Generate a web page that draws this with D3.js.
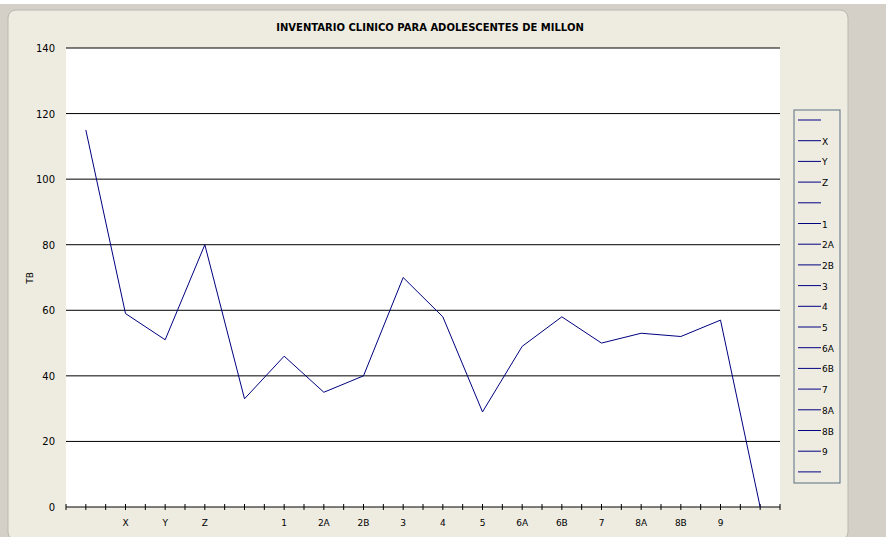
<!DOCTYPE html>
<meta charset="utf-8">
<script src="https://d3js.org/d3.v7.min.js"></script>
<style>body{margin:0;background:#d4d0c8;} text{font-family:Tahoma,"DejaVu Sans",sans-serif;}</style>
<div id="chart"></div>
<script>
var categories = ["", "X", "Y", "Z", " ", "1", "2A", "2B", "3", "4", "5", "6A", "6B", "7", "8A", "8B", "9", "  "];
var values = [115, 59, 51, 80, 33, 46, 35, 40, 70, 58, 29, 49, 58, 50, 53, 52, 57, 0];
var yTicks = [0, 20, 40, 60, 80, 100, 120, 140];

var svg = d3.select("#chart").append("svg").attr("width", 886).attr("height", 537).style("display", "block");

// outer frame
svg.append("rect").attr("x", 0).attr("y", 0).attr("width", 886).attr("height", 537).attr("fill", "#d4d0c8");
svg.append("rect").attr("x", 0).attr("y", 0).attr("width", 886).attr("height", 4).attr("fill", "#ffffff");
svg.append("rect").attr("x", 8).attr("y", 10).attr("width", 840).attr("height", 530)
    .attr("rx", 8).attr("fill", "#eeece1").attr("stroke", "#b8b8b0");

var pLeft = 66, pRight = 780, pTop = 48, pBottom = 507;
svg.append("rect").attr("x", pLeft).attr("y", pTop).attr("width", pRight - pLeft).attr("height", pBottom - pTop).attr("fill", "#fff");

var x = d3.scaleBand().domain(categories).range([pLeft, pRight]);
var y = d3.scaleLinear().domain([0, 140]).range([pBottom, pTop]);

// gridlines
svg.selectAll(".grid").data(yTicks.slice(1)).enter().append("line")
    .attr("x1", pLeft).attr("x2", pRight)
    .attr("y1", d => y(d)).attr("y2", d => y(d))
    .attr("stroke", "#000").attr("stroke-width", 1);

// y axis labels
svg.selectAll(".yl").data(yTicks).enter().append("text")
    .attr("x", 55).attr("y", d => y(d) + 4).attr("text-anchor", "end")
    .attr("font-size", 10).text(d => d);

svg.append("text").attr("transform", "translate(33,278) rotate(-90)")
    .attr("text-anchor", "middle").attr("font-size", 9).text("TB");

// x axis
svg.append("line").attr("x1", pLeft).attr("x2", pRight).attr("y1", pBottom).attr("y2", pBottom).attr("stroke", "#000");
var tickPos = [];
categories.forEach(function (c) { tickPos.push(x(c)); tickPos.push(x(c) + x.bandwidth() / 2); });
tickPos.push(pRight);
svg.selectAll(".tk").data(tickPos).enter().append("line")
    .attr("x1", d => d).attr("x2", d => d).attr("y1", pBottom - 3).attr("y2", pBottom + 3)
    .attr("stroke", "#000");
svg.selectAll(".xl").data(categories).enter().append("text")
    .attr("x", d => x(d) + x.bandwidth() / 2).attr("y", pBottom + 19)
    .attr("text-anchor", "middle").attr("font-size", 9).text(d => d.trim());

// line
svg.append("path").datum(values)
    .attr("fill", "none").attr("stroke", "#000080").attr("stroke-width", 1)
    .attr("d", d3.line().x((d, i) => x(categories[i]) + x.bandwidth() / 2).y(d => y(d)));

// title
svg.append("text").attr("x", 430).attr("y", 31).attr("text-anchor", "middle")
    .attr("font-size", 10).attr("font-weight", "bold").text("INVENTARIO CLINICO PARA ADOLESCENTES DE MILLON");

// legend
svg.append("rect").attr("x", 794).attr("y", 110).attr("width", 46).attr("height", 373)
    .attr("fill", "#eeece1").attr("stroke", "#5a6e80");
var lg = svg.selectAll(".lg").data(categories).enter().append("g")
    .attr("transform", (d, i) => "translate(798," + (120 + i * 20.7) + ")");
lg.append("line").attr("x1", 0).attr("x2", 23).attr("stroke", "#000080");
lg.append("text").attr("x", 24).attr("y", 4).attr("font-size", 9).text(d => d.trim());
</script>
